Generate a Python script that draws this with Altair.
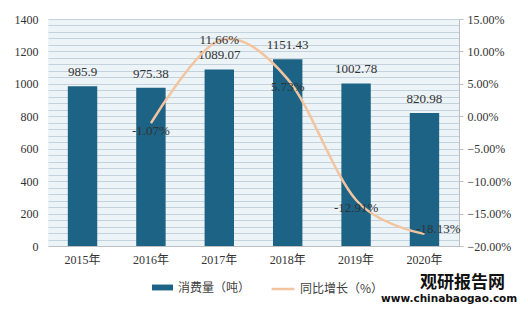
import altair as alt
import pandas as pd

years = ["2015年", "2016年", "2017年", "2018年", "2019年", "2020年"]
consumption = [985.9, 975.38, 1089.07, 1151.43, 1002.78, 820.98]
growth = [None, -1.07, 11.66, 5.73, -12.91, -18.13]

left_ticks = list(range(0, 1401, 40))
right_ticks = [-20, -15, -10, -5, 0, 5, 10, 15]

df = pd.DataFrame({
    "year": years,
    "consumption": consumption,
    "growth": growth,
    "bar_label": [f"{v:g}" for v in consumption],
    "growth_label": [("" if g is None else f"{g:.2f}%") for g in growth],
    "s1": ["消费量（吨）"] * 6,
    "s2": ["同比增长（%）"] * 6,
})

FONT = "Liberation Serif, Noto Sans CJK SC"
BAR = "#1c6385"
LINE = "#f3c4a0"

x = alt.X("year:N", sort=years, title=None,
          scale=alt.Scale(paddingInner=0.57, paddingOuter=0.29),
          axis=alt.Axis(labelAngle=0, labelFont=FONT, labelFontSize=12, labelColor="#333333",
                        domainColor="#bfbfbf", ticks=False, labelPadding=8))

left_axis = alt.Axis(values=left_ticks, labelExpr="datum.value % 200 == 0 ? datum.label : ''",
                     format="d", labelFont=FONT, labelFontSize=12, labelColor="#333333",
                     labelOverlap=False, labelFlush=False,
                     domain=False, ticks=False, labelPadding=10,
                     grid=True, gridColor="#c3d2dc", gridWidth=1)
left_scale = alt.Scale(domain=[0, 1400], nice=False)

bars = alt.Chart(df).mark_bar(color=BAR).encode(
    x=x,
    y=alt.Y("consumption:Q", title=None, scale=left_scale, axis=left_axis),
    fill=alt.Fill("s1:N", title=None,
                  scale=alt.Scale(range=[BAR]),
                  legend=alt.Legend(orient="none", legendX=103, legendY=257,
                                    symbolType="M-1,-0.28H1V0.28H-1Z", symbolSize=440,
                                    labelFont="Noto Sans CJK SC", labelFontSize=12,
                                    labelColor="#404040")),
)

bar_text = alt.Chart(df).mark_text(dy=-14, font=FONT, fontSize=13, color="#333333").encode(
    x=alt.X("year:N", sort=years, title=None),
    y=alt.Y("consumption:Q", title=None, scale=left_scale, axis=left_axis),
    text="bar_label:N",
)

left = alt.layer(bars, bar_text)

line_base = alt.Chart(df).transform_filter("datum.growth != null")

right_axis = alt.Axis(orient="right", values=right_ticks,
                      labelExpr="format(datum.value, '.2f') + '%'",
                      labelFont=FONT, labelFontSize=12, labelColor="#333333",
                      labelOverlap=False, labelFlush=False,
                      domainColor="#bfbfbf", tickColor="#bfbfbf", tickSize=4,
                      labelPadding=4, grid=False)
right_scale = alt.Scale(domain=[-20, 15], nice=False)
gy = alt.Y("growth:Q", title=None, scale=right_scale, axis=right_axis)

line = line_base.mark_line(interpolate="cardinal", strokeWidth=2.5, color=LINE).encode(
    x=alt.X("year:N", sort=years, title=None),
    y=gy,
    stroke=alt.Stroke("s2:N", title=None,
                      scale=alt.Scale(range=[LINE]),
                      legend=alt.Legend(orient="none", legendX=222, legendY=257,
                                        symbolType="stroke", symbolSize=520,
                                        symbolStrokeWidth=2.5,
                                        labelFont="Noto Sans CJK SC", labelFontSize=12,
                                        labelColor="#404040")),
)

def ltext(flt, dx, dy):
    return line_base.transform_filter(flt).mark_text(
        dx=dx, dy=dy, font=FONT, fontSize=13, color="#333333"
    ).encode(x=alt.X("year:N", sort=years, title=None), y=gy, text="growth_label:N")

line_text_mid = ltext("datum.growth < 10 && datum.growth > -15", 0, 8)
line_text_top = ltext("datum.growth >= 10", 0, -1)
line_text_end = ltext("datum.growth <= -15", 14, -5)

right = alt.layer(line, line_text_mid, line_text_top, line_text_end)

wm_src = alt.Chart(df).transform_filter("datum.year == '2015年'")
wm1 = wm_src.mark_text(
    font="Noto Sans CJK SC", fontSize=17, fontWeight="bold", color="#111111", align="left"
).encode(x=alt.value(372), y=alt.value(264), text=alt.value("观研报告网"))
wm2 = wm_src.mark_text(
    font="DejaVu Sans", fontSize=10.5, fontWeight="bold", color="#111111", align="left"
).encode(x=alt.value(333), y=alt.value(280), text=alt.value("www.chinabaogao.com"))

chart = alt.layer(left, right, wm1, wm2).resolve_scale(
    y="independent", fill="independent", stroke="independent"
).properties(
    width=411, height=227,
    padding={"left": 48, "top": 19, "right": 69, "bottom": 65},
    autosize=alt.AutoSizeParams(type="none"),
    background="white",
).configure_view(fill="#edf4f8", stroke=None)

chart.save("out.html", embed_options={"renderer": "svg", "actions": False})
